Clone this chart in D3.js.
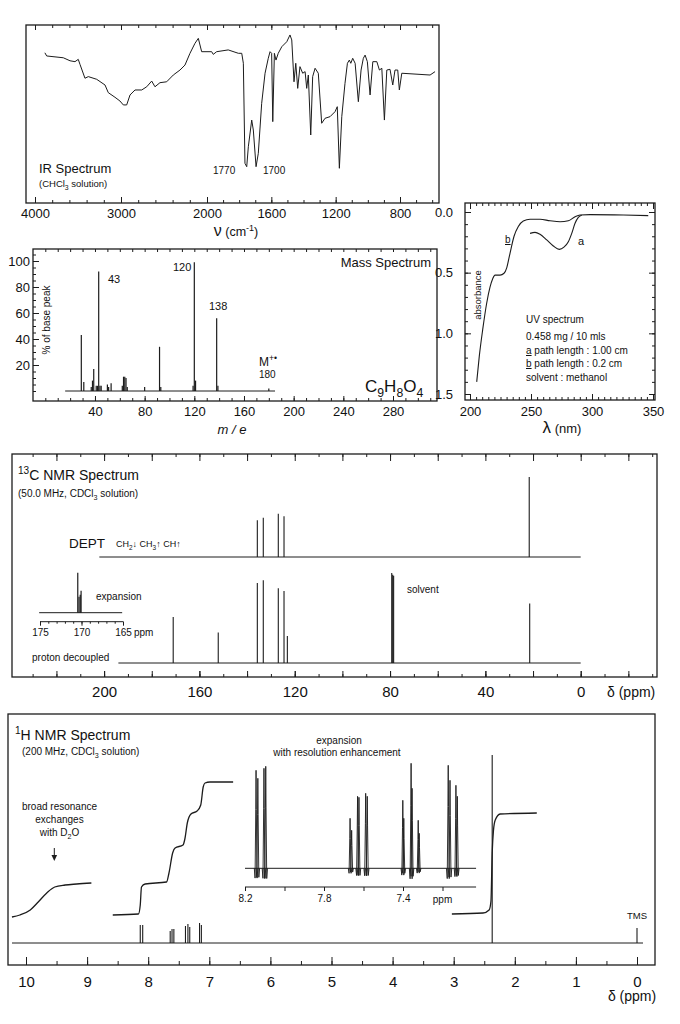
<!DOCTYPE html>
<html lang="en">
<head>
<meta charset="utf-8">
<title>Aspirin spectra</title>
<script src="https://d3js.org/d3.v7.min.js"></script>
<style>
  body { margin: 0; background: #fff; }
  svg text { font-family: "Liberation Sans", Arial, Helvetica, sans-serif; fill: #111; }
</style>
</head>
<body>
<div id="chart"></div>
<script>
// ---------- data ----------
// IR: [wavenumber, %T]
const irSpectrum = [[3885,84.4],[3864,82.6],[3671,81.6],[3593,79.9],[3535,79.4],[3497,80.7],[3477,77.9],
  [3419,70.1],[3380,71.0],[3283,69.5],[3186,66.3],[3148,62.0],[3070,59.4],[3012,57.3],[2973,55.1],
  [2934,55.1],[2895,60.7],[2837,63.5],[2759,63.5],[2701,65.3],[2643,68.5],[2605,65.3],[2547,67.6],
  [2469,68.1],[2392,71.9],[2314,74.7],[2256,77.5],[2198,84.1],[2140,89.7],[2101,92.5],[2062,85.0],
  [1971,85.0],[1961,83.5],[1940,85.0],[1868,86.0],[1805,84.1],[1784,84.1],[1774,78.5],[1764,22.3],
  [1753,20.4],[1743,31.6],[1722,46.6],[1712,41.0],[1695,20.4],[1681,27.9],[1660,56.0],[1639,72.9],
  [1619,81.3],[1608,85.0],[1598,84.1],[1591,45.7],[1581,84.1],[1571,80.3],[1557,84.1],[1535,87.8],
  [1504,90.6],[1484,94.4],[1473,91.6],[1459,68.1],[1448,78.5],[1436,64.4],[1422,76.6],[1405,72.9],
  [1390,73.8],[1380,64.4],[1370,71.9],[1355,38.2],[1343,71.0],[1328,75.7],[1308,72.9],[1287,44.8],
  [1266,47.6],[1235,48.5],[1204,51.3],[1190,54.1],[1177,19.5],[1162,48.5],[1142,67.2],[1127,78.5],
  [1115,80.3],[1106,78.5],[1094,81.3],[1079,78.5],[1059,56.9],[1042,74.7],[1028,81.3],[1017,83.1],
  [1003,79.4],[986,60.7],[969,79.4],[944,79.4],[928,74.7],[913,75.7],[897,46.6],[882,74.7],
  [862,75.1],[845,66.3],[831,74.7],[814,74.7],[804,63.5],[789,72.9],[613,71.9],[582,73.8]];
const irLabelTicks = [4000, 3000, 2000, 1600, 1200, 800];

// Mass spectrum: m/z and % of base peak
const msMass =      [29, 31, 37, 38, 39, 41, 42, 43, 44, 45, 50, 51, 53, 62, 63, 64, 65, 66, 80, 92, 93, 119, 120, 121, 138, 139, 180];
const msIntensity = [43,  7,  3,  8, 17,  4,  4, 92,  4,  4,  5,  3,  6,  4, 11, 11, 10,  3,  3, 34,  3,   4,  99,   8,  56,   4,   2];
const msXTicks = [40, 80, 120, 160, 200, 240, 280];
const msYTicks = [20, 40, 60, 80, 100];

// UV: [lambda nm, absorbance]
const uvCurveB = [[205.5,1.40],[207.6,1.19],[210.4,0.97],[213.7,0.75],[216.4,0.62],[218.6,0.55],[220.5,0.52],
  [224.6,0.52],[227.9,0.505],[230.1,0.46],[232.8,0.34],[236.1,0.20],[239.6,0.12],[243.7,0.074],[249.2,0.06],
  [257.4,0.06],[265.6,0.072],[273.8,0.08],[280.6,0.072],[286.1,0.039],[290.2,0.025],[298.4,0.022],
  [325.7,0.025],[346.1,0.03]];
const uvCurveA = [[249.2,0.176],[253.3,0.168],[257.4,0.184],[262.9,0.23],[268.3,0.28],[273.2,0.308],
  [277.0,0.29],[280.6,0.245],[283.4,0.176],[286.1,0.093],[288.8,0.044],[291.6,0.027]];
const uvXTicks = [200, 250, 300, 350];
const uvYTicks = [0, 0.5, 1.0, 1.5];

// 13C NMR (ppm, relative height)
const deptShift =     [135.7, 133.2, 126.9, 124.5, 21.6];
const deptIntensity = [46, 49, 54, 51, 100];
const c13Shift =     [171.0, 152.1, 135.7, 133.2, 126.9, 124.5, 123.1, 79.3, 78.9, 78.5, 21.4];
const c13Intensity = [51, 34, 89, 92, 83, 80, 30, 100, 98, 97, 66];
const c13ExpShift =     [170.45, 170.3, 170.15, 170.05];
const c13ExpIntensity = [100, 40, 45, 55];
const c13Ticks = [200, 160, 120, 80, 40, 0];
const c13ExpTicks = [175, 170, 165];

// 1H NMR (ppm, height)
const h1Shift =     [8.13, 8.09, 7.64, 7.61, 7.58, 7.39, 7.35, 7.32, 7.16, 7.13, 2.37, 0.0];
const h1Intensity = [18, 18, 12, 14, 14, 17, 19, 16, 20, 18, 188, 15];
const h1IntegralAcid = [[10.23,26],[10.10,28],[9.93,33],[9.80,41],[9.66,50],[9.53,56],[9.36,58],[9.17,59],[8.93,60]];
const h1IntegralAromatic = [[8.58,28],[8.16,29],[8.13,38],[8.11,56],[8.05,59],[7.70,61],[7.66,70],[7.60,90],
  [7.56,95],[7.43,98],[7.40,104],[7.36,120],[7.30,129],[7.20,132],[7.14,138],[7.10,156],[7.07,160],[6.99,161],[6.61,161]];
const h1IntegralMethyl = [[3.03,29],[2.52,30],[2.42,33],[2.39,42],[2.37,90],[2.35,112],[2.32,123],[2.24,129],[1.64,130]];
const h1ExpShift =     [8.144, 8.135, 8.104, 8.095, 7.668, 7.660, 7.630, 7.623, 7.589, 7.581,
                        7.401, 7.396, 7.359, 7.354, 7.323, 7.318, 7.171, 7.162, 7.132, 7.125];
const h1ExpIntensity = [98, 90, 100, 102, 50, 38, 72, 71, 75, 72,
                        68, 50, 105, 80, 48, 35, 103, 88, 83, 72];
const h1Ticks = [10, 9, 8, 7, 6, 5, 4, 3, 2, 1, 0];
const h1ExpTicks = [8.2, 7.8, 7.4];

// ---------- drawing ----------
const INK = "#1c1c1c";
const svg = d3.select("#chart").append("svg").attr("width", 680).attr("height", 1024);

function frame(x0, y0, x1, y1) {
  svg.append("rect").attr("x", x0).attr("y", y0).attr("width", x1 - x0).attr("height", y1 - y0)
    .attr("fill", "none").attr("stroke", INK).attr("stroke-width", 1.3);
}

function ticks(gen, scale, values, size, tx, ty, opts = {}) {
  const ax = gen(scale).tickValues(values).tickSize(size).tickPadding(opts.pad || 3)
    .tickFormat(opts.fmt || (() => ""));
  const g = svg.append("g").attr("transform", `translate(${tx},${ty})`).call(ax);
  g.select(".domain").remove();
  g.attr("font-family", null).attr("font-size", opts.fs || 13);
  g.selectAll("line").attr("stroke", INK).attr("stroke-width", 1);
  g.selectAll("text").attr("fill", INK);
  return g;
}

function txt(x, y, parts, size, opts = {}) {
  const t = svg.append("text").attr("x", x).attr("y", y).attr("font-size", size)
    .attr("text-anchor", opts.anchor || "start");
  if (opts.rotate) t.attr("transform", `rotate(${opts.rotate},${x},${y})`);
  if (opts.italic) t.attr("font-style", "italic");
  if (typeof parts === "string") parts = [[parts]];
  let shift = 0;
  parts.forEach(([s, kind, fs]) => {
    const ts = t.append("tspan").text(s);
    let target = 0;
    if (kind === "sub") target = size * 0.32;
    if (kind === "sup") target = -size * 0.42;
    if (kind === "u") ts.attr("text-decoration", "underline");
    ts.attr("dy", target - shift);
    shift = target;
    if (kind === "sub" || kind === "sup") ts.attr("font-size", size * 0.72);
    if (fs) ts.attr("font-size", fs);
  });
  return t;
}

function path(points, x, y, curve, width) {
  svg.append("path")
    .attr("d", d3.line().x(d => x(d[0])).y(d => y(d[1])).curve(curve || d3.curveLinear)(points))
    .attr("fill", "none").attr("stroke", INK).attr("stroke-width", width || 1);
}

function sticks(shifts, heights, x, y, width) {
  svg.append("g").selectAll("line").data(shifts).join("line")
    .attr("x1", d => x(d)).attr("x2", d => x(d))
    .attr("y1", y(0)).attr("y2", (d, i) => y(heights[i]))
    .attr("stroke", INK).attr("stroke-width", width || 1);
}

// ---- IR ----
const irX = d3.scaleLinear().domain([4000, 2000, 800]).range([35, 207, 400]);
const irY = d3.scaleLinear().domain([0, 100]).range([203, 25]);
frame(26, 25, 439, 203);
const irMinor = d3.range(4000, 2000, -200).concat(d3.range(2000, 599, -100));
ticks(d3.axisBottom, irX, irMinor, -3, 0, 203);
ticks(d3.axisBottom, irX, irLabelTicks, -6, 0, 203, { fmt: d => d, pad: 6, fs: 13 });
ticks(d3.axisTop, irX, irMinor, -3, 0, 25);
ticks(d3.axisTop, irX, irLabelTicks, -5, 0, 25);
path(irSpectrum, irX, irY);
txt(39, 173, "IR Spectrum", 13);
txt(39, 187, [["(CHCl"], ["3", "sub"], [" solution)"]], 9.5);
txt(213, 174, "1770", 10);
txt(263, 174, "1700", 10);
txt(236, 236, [["ν", null, 16], [" (cm"], ["-1", "sup"], [")"]], 12.5, { anchor: "middle" });

// ---- Mass spectrum ----
const msX = d3.scaleLinear().domain([0, 280]).range([45.3, 393]);
const msY = d3.scaleLinear().domain([0, 100]).range([391, 261]);
frame(33, 249, 437, 401);
ticks(d3.axisBottom, msX, d3.range(0, 316, 10), -3, 0, 401);
ticks(d3.axisBottom, msX, msXTicks, -5, 0, 401, { fmt: d => d, pad: 6, fs: 13 });
ticks(d3.axisTop, msX, d3.range(0, 316, 10), -3, 0, 249);
ticks(d3.axisLeft, msY, d3.range(0, 106, 5), -3, 33, 0);
ticks(d3.axisLeft, msY, msYTicks, -6, 33, 0, { fmt: d => d, pad: 3, fs: 13 });
svg.append("line").attr("x1", msX(16)).attr("x2", msX(185)).attr("y1", msY(0)).attr("y2", msY(0))
  .attr("stroke", INK).attr("stroke-width", 1);
sticks(msMass, msIntensity, msX, msY, 1.2);
txt(108, 283, "43", 11);
txt(173, 271, "120", 11);
txt(209, 310, "138", 11);
txt(259, 366, [["M"], ["+•", "sup"]], 12);
txt(259, 378, "180", 10);
txt(431, 267, "Mass Spectrum", 13, { anchor: "end" });
txt(365, 392, [["C"], ["9", "sub"], ["H"], ["8", "sub"], ["O"], ["4", "sub"]], 17);
txt(50, 320, "% of base peak", 10, { rotate: -90, anchor: "middle" });
txt(232, 434, "m / e", 13, { italic: true, anchor: "middle" });

// ---- UV ----
const uvX = d3.scaleLinear().domain([200, 350]).range([470, 653]);
const uvY = d3.scaleLinear().domain([0, 1.5]).range([212, 394]);
frame(465, 203, 655, 400);
const uvMinorX = d3.range(200, 351, 5);
const uvMinorY = d3.range(0, 1.51, 0.1);
ticks(d3.axisBottom, uvX, uvMinorX, -3, 0, 400);
ticks(d3.axisBottom, uvX, uvXTicks, -6, 0, 400, { fmt: d => d, pad: 7, fs: 13 });
ticks(d3.axisTop, uvX, uvMinorX, -3, 0, 203);
ticks(d3.axisTop, uvX, uvXTicks, -6, 0, 203);
ticks(d3.axisLeft, uvY, uvMinorY, -3, 465, 0);
ticks(d3.axisLeft, uvY, uvYTicks, -6, 465, 0, { fmt: d3.format(".1f"), pad: 12, fs: 13 });
ticks(d3.axisRight, uvY, uvMinorY, -3, 655, 0);
ticks(d3.axisRight, uvY, uvYTicks, -6, 655, 0);
path(uvCurveB, uvX, uvY, d3.curveMonotoneX, 1.1);
path(uvCurveA, uvX, uvY, d3.curveMonotoneX, 1.1);
txt(505, 243, [["b", "u"]], 10);
txt(578, 245, "a", 11);
txt(481, 295, "absorbance", 9.5, { rotate: -90, anchor: "middle" });
txt(526, 323, "UV spectrum", 10);
txt(526, 340, "0.458 mg / 10 mls", 10);
txt(526, 354, [["a", "u"], [" path length : 1.00 cm"]], 10);
txt(526, 367, [["b", "u"], [" path length : 0.2 cm"]], 10);
txt(526, 381, "solvent : methanol", 10);
txt(562, 433, [["λ", null, 17], [" (nm)"]], 13, { anchor: "middle" });

// ---- 13C NMR ----
const cX = d3.scaleLinear().domain([200, 0]).range([104.1, 580.7]);
const deptY = d3.scaleLinear().domain([0, 100]).range([557, 477]);
const decY = d3.scaleLinear().domain([0, 100]).range([663, 573]);
frame(12, 454, 657, 677);
const cMinor = d3.range(-30, 240, 10);
const cMid = d3.range(-20, 240, 20);
ticks(d3.axisBottom, cX, cMinor, -3, 0, 677);
ticks(d3.axisBottom, cX, cMid, -6, 0, 677);
ticks(d3.axisBottom, cX, c13Ticks, -6, 0, 677, { fmt: d => d, pad: 9, fs: 15 });
ticks(d3.axisTop, cX, cMinor, -3, 0, 454);
ticks(d3.axisTop, cX, cMid, -7, 0, 454);
svg.append("line").attr("x1", cX(202)).attr("x2", cX(0)).attr("y1", deptY(0)).attr("y2", deptY(0))
  .attr("stroke", INK);
sticks(deptShift, deptIntensity, cX, deptY, 1.1);
svg.append("line").attr("x1", cX(194)).attr("x2", cX(0)).attr("y1", decY(0)).attr("y2", decY(0))
  .attr("stroke", INK);
sticks(c13Shift, c13Intensity, cX, decY, 1.1);
// expansion inset
const ceX = d3.scaleLinear().domain([175, 165]).range([40, 123]);
const ceY = d3.scaleLinear().domain([0, 100]).range([612.7, 572.7]);
svg.append("line").attr("x1", ceX(175.1)).attr("x2", ceX(165.1)).attr("y1", ceY(0)).attr("y2", ceY(0))
  .attr("stroke", INK);
sticks(c13ExpShift, c13ExpIntensity, ceX, ceY, 1.2);
svg.append("line").attr("x1", ceX(175)).attr("x2", ceX(165)).attr("y1", 621.7).attr("y2", 621.7)
  .attr("stroke", INK);
ticks(d3.axisBottom, ceX, d3.range(165, 175.1, 1), 2, 0, 621.7);
ticks(d3.axisBottom, ceX, c13ExpTicks, 4, 0, 621.7, { fmt: d => d, pad: 3, fs: 10 });
txt(ceX(165) + 11, 635.5, "ppm", 10);
txt(96, 600, "expansion", 10);
txt(32, 661, "proton decoupled", 10);
txt(407, 593, "solvent", 10);
txt(18, 480, [["13", "sup"], ["C NMR Spectrum"]], 14);
txt(18, 497, [["(50.0 MHz, CDCl"], ["3", "sub"], [" solution)"]], 10);
txt(69, 548, "DEPT", 13.5);
txt(116, 547, [["CH"], ["2", "sub"], ["↓  CH"], ["3", "sub"], ["↑  CH↑"]], 9);
txt(607, 697, "δ (ppm)", 14);

// ---- 1H NMR ----
const hX = d3.scaleLinear().domain([10, 0]).range([26, 637]);
const hY = d3.scaleLinear().domain([0, 200]).range([943, 743]);
frame(8, 714, 655, 965);
ticks(d3.axisBottom, hX, d3.range(0, 10.1, 0.5), -4, 0, 965);
ticks(d3.axisBottom, hX, h1Ticks, -8, 0, 965, { fmt: d => d, pad: 11, fs: 15 });
svg.append("line").attr("x1", 12).attr("x2", 643).attr("y1", hY(0)).attr("y2", hY(0)).attr("stroke", INK);
sticks(h1Shift, h1Intensity, hX, hY, 1.1);
path(h1IntegralAcid, hX, hY, d3.curveMonotoneX, 1.3);
path(h1IntegralAromatic, hX, hY, d3.curveMonotoneX, 1.3);
path(h1IntegralMethyl, hX, hY, d3.curveMonotoneX, 1.3);
// resolution-enhanced expansion
const heX = d3.scaleLinear().domain([8.2, 7.2]).range([245, 442.5]);
const heY = d3.scaleLinear().domain([0, 100]).range([868.3, 768.3]);
svg.append("line").attr("x1", heX(8.2)).attr("x2", heX(7.03)).attr("y1", heY(0)).attr("y2", heY(0))
  .attr("stroke", INK);
h1ExpShift.forEach((p, i) => {
  const h = h1ExpIntensity[i];
  path([[p + 0.009, 0], [p + 0.005, -0.1 * h], [p + 0.0015, h * 0.6], [p, h], [p - 0.0015, h * 0.6],
        [p - 0.005, -0.1 * h], [p - 0.009, 0]], heX, heY, null, 0.9);
});
svg.append("line").attr("x1", heX(8.2)).attr("x2", heX(7.03)).attr("y1", 887).attr("y2", 887).attr("stroke", INK);
ticks(d3.axisBottom, heX, [8.2, 8.0, 7.8, 7.6, 7.4, 7.2], 4, 0, 887);
ticks(d3.axisBottom, heX, h1ExpTicks, 4, 0, 887, { fmt: d3.format(".1f"), pad: 4, fs: 10 });
txt(heX(7.2), 903, "ppm", 10, { anchor: "middle" });
txt(15, 740, [["1", "sup"], ["H NMR Spectrum"]], 14);
txt(22, 755, [["(200 MHz, CDCl"], ["3", "sub"], [" solution)"]], 10);
txt(339, 744, "expansion", 10, { anchor: "middle" });
txt(337, 756, "with resolution enhancement", 10, { anchor: "middle" });
txt(59.5, 810, "broad resonance", 10, { anchor: "middle" });
txt(59.5, 823, "exchanges", 10, { anchor: "middle" });
txt(59.5, 836, [["with D"], ["2", "sub"], ["O"]], 10, { anchor: "middle" });
svg.append("line").attr("x1", 54.3).attr("x2", 54.3).attr("y1", 848).attr("y2", 858).attr("stroke", INK);
svg.append("path").attr("d", "M51.5,855 L54.3,861 L57.1,855 Z").attr("fill", INK);
txt(637, 919, "TMS", 9.5, { anchor: "middle" });
txt(632, 1001, "δ (ppm)", 14, { anchor: "middle" });
</script>
</body>
</html>
